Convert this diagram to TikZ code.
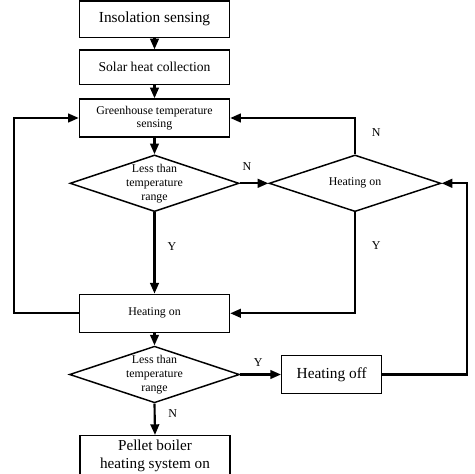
\documentclass[tikz,border=0pt]{standalone}
\usepackage{fontspec}
\setmainfont{Liberation Serif}
\usetikzlibrary{shapes.geometric,arrows.meta}

\begin{document}
\begin{tikzpicture}[x=0.75pt, y=-0.75pt,
  proc/.style={draw, line width=1.1pt, minimum width=112.5pt, inner sep=1pt, align=center},
  dec/.style={draw, diamond, line width=1.1pt, inner sep=0pt, minimum height=42.5pt},
  dectxt/.style={align=center, inner sep=0pt, font=\fontsize{8.9}{10.6}\selectfont},
  flow/.style={line width=1.6pt, -{Triangle[length=8pt,width=6.5pt]}},
  yn/.style={inner sep=0pt, font=\fontsize{9}{10}\selectfont}]
  \clip (0,0) rectangle (474,474);
  % main column
  \node[proc, minimum height=27.5pt, font=\fontsize{11.5}{13}\selectfont] (ins) at (154.5,19.3) {Insolation sensing};
  \node[proc, minimum height=25.7pt, font=\fontsize{10.2}{12}\selectfont] (solar) at (154.5,67.2) {Solar heat collection};
  \node[proc, minimum height=28.5pt, font=\fontsize{8.9}{10}\selectfont] (green) at (154.5,118) {Greenhouse temperature\\sensing};
  \node[dec, minimum width=126.75pt, label={[dectxt]center:{Less than\\temperature\\range}}] (d1) at (154.5,183.3) {};
  \node[dec, minimum width=128.8pt, label={[dectxt]center:Heating on}] (d2) at (355,183.3) {};
  \node[proc, minimum height=28.5pt, font=\fontsize{8.9}{10}\selectfont] (heat) at (154.5,313.3) {Heating on};
  \node[dec, minimum width=127.5pt, label={[dectxt]center:{Less than\\temperature\\range}}] (d3) at (154.5,374.5) {};
  \node[proc, minimum width=75pt, minimum height=28.2pt, font=\fontsize{11.5}{13}\selectfont] (off) at (331.7,374.5) {Heating off};
  \node[proc, minimum height=30pt, font=\fontsize{11.4}{13.7}\selectfont] (pellet) at (155,455.7) {Pellet boiler\\heating system on};
  % connectors
  \draw[flow] (ins) -- (solar);
  \draw[flow] (solar) -- (green);
  \draw[flow] (green) -- (d1);
  \draw[flow] (d1.east) -- node[yn, pos=0.25, above=8.8pt] {N} (d2.west);
  \draw[flow] (d1.south) -- node[yn, pos=0.42, right=9pt] {Y} (heat.north);
  \draw[flow] (d2.north) |- node[yn, pos=0.3, right=11.8pt] {N} (green.east);
  \draw[flow] (d2.south) |- node[yn, pos=0.165, right=11.8pt] {Y} (heat.east);
  \draw[flow] (heat.west) -- ++(-65,0) |- (green.west);
  \draw[flow] (heat) -- (d3);
  \draw[flow] (d3.east) -- node[yn, pos=0.44, above=5.5pt] {Y} (off.west);
  \draw[flow] (off.east) -- ++(84.3,0) |- (d2.east);
  \draw[flow] (d3.south) -- node[yn, pos=0.32, right=9.4pt] {N} (pellet.north);
\end{tikzpicture}
\end{document}
